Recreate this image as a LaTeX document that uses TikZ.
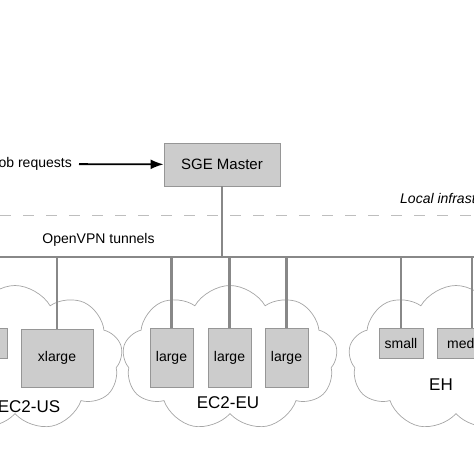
\documentclass[tikz,border=0pt]{standalone}
\usepackage{fontspec}
\setmainfont{Liberation Sans}
\usetikzlibrary{shapes.symbols,arrows.meta}
\definecolor{linegray}{RGB}{136,136,136}
\definecolor{boxgray}{RGB}{204,204,204}
\definecolor{boxedge}{RGB}{150,150,150}
\definecolor{cloudgray}{RGB}{165,165,165}
\definecolor{dashgray}{RGB}{190,190,190}

\begin{document}
\begin{tikzpicture}[x=1pt,y=-1pt]
    \tikzset{vm/.style={draw=boxedge, fill=boxgray, line width=0.8pt, inner sep=0pt, font=\fontsize{14}{16}\selectfont},
             site/.style={cloud, cloud puffs=9, cloud puff arc=120, aspect=1.5, draw=cloudgray, line width=0.7pt, minimum width=215pt, minimum height=145pt},
             sitename/.style={inner sep=0pt, font=\fontsize{17}{20}\selectfont},
             lbl/.style={inner sep=0pt, font=\fontsize{14}{16}\selectfont},
             tunnel/.style={draw=linegray, line width=2.2pt}}
    \useasboundingbox (0,0) rectangle (474,474);
    \clip (0,0) rectangle (474,474);
    % clouds
    \node[site] (us) at (15,358) {}; %EC2-US
    \node[site] (eu) at (230,358) {}; %EC2-EU
    \node[site] (eh) at (456,358) {}; %EH
    \node[sitename] (usname) at (29,407) {EC2-US};
    \node[sitename] (euname) at (228,403) {EC2-EU};
    \node[sitename] (ehname) at (441,385) {EH};
    % master and requests
    \node[vm, minimum width=116pt, minimum height=43pt, font=\fontsize{15}{18}\selectfont] (master) at (222,164.5) {SGE Master};
    \node[lbl, anchor=east] (jobs) at (72,164) {Job requests};
    \draw[-{Latex[length=13pt,width=10pt]}, line width=1.8pt, shorten <=7pt] (jobs) -- (master);
    % local border
    \coordinate (dashL) at (0,215);
    \coordinate (dashR) at (474,215);
    \draw[dashgray, line width=1pt, dash pattern=on 11pt off 12pt] (dashL) -- (dashR);
    \node[lbl, anchor=west, font=\fontsize{14}{16}\selectfont\itshape] (local) at (400,198) {Local infrastructure};
    \node[lbl] (vpn) at (98.5,240) {OpenVPN tunnels};
    % vms
    \node[vm, minimum width=47pt, minimum height=30pt] (usmd) at (-16.5,343) {}; %cut off
    \node[vm, minimum width=72pt, minimum height=58pt] (usxl) at (57,358) {xlarge};
    \node[vm, minimum width=43pt, minimum height=59pt] (eul1) at (171.5,357.5) {large};
    \node[vm, minimum width=43pt, minimum height=59pt] (eul2) at (229.5,357.5) {large};
    \node[vm, minimum width=43pt, minimum height=59pt] (eul3) at (286.5,357.5) {large};
    \node[vm, minimum width=44pt, minimum height=30pt] (ehsm) at (401,343) {small};
    \node[vm, minimum width=70pt, minimum height=30pt] (ehmd) at (472,343) {medium};
    % tunnels
    \coordinate (busL) at (-10,257);
    \coordinate (busR) at (484,257);
    \draw[tunnel] (busL) -- (busR);
    \draw[tunnel] (master.south) -- (master.south |- busL);
    \foreach \vm in {usxl,eul1,eul2,eul3,ehsm,ehmd}
        \draw[tunnel] (\vm.north) -- (\vm.north |- busL);
\end{tikzpicture}
\end{document}
